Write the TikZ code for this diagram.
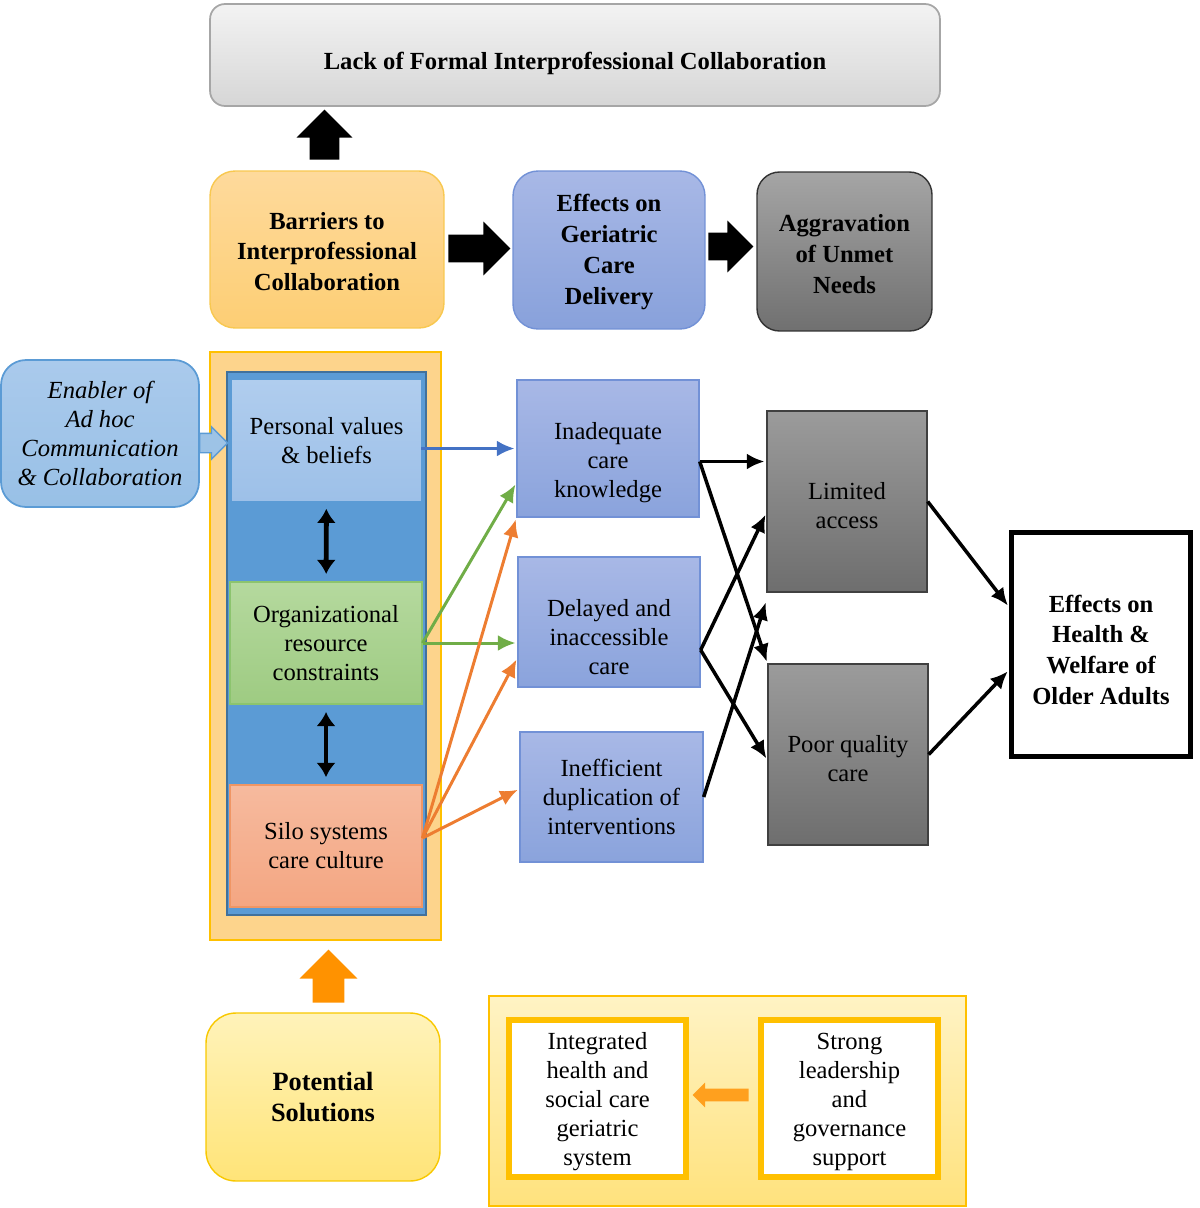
\documentclass[tikz,border=0pt]{standalone}
\usepackage{fontspec}
\setmainfont{Liberation Serif}
\usepackage{tikz}
\usetikzlibrary{shapes.arrows}
\usetikzlibrary{arrows.meta}
\definecolor{frameorange}{HTML}{FFC000}
\definecolor{barfill}{HTML}{FDD48C}
\definecolor{midblue}{HTML}{5B9BD5}
\definecolor{darkblue}{HTML}{41719C}
\definecolor{linkblue}{HTML}{4472C4}
\definecolor{linkgreen}{HTML}{70AD47}
\definecolor{linkorange}{HTML}{ED7D31}

\begin{document}
\begin{tikzpicture}[x=0.02cm, y=-0.02cm, shorten >=1pt, >={Latex[length=10pt,width=9pt]}]
		\tikzstyle{box}=[rectangle, inner sep=2pt, align=center, font=\fontsize{14}{16.5}\selectfont]
		\tikzstyle{head}=[box, font=\bfseries\fontsize{14}{17.6}\selectfont]
		\tikzstyle{bluebox}=[box, top color={rgb,255:red,168;green,184;blue,230}, bottom color={rgb,255:red,138;green,163;blue,220}, draw={rgb,255:red,114;green,145;blue,214}, line width=0.8pt, minimum width=3.64cm]
		\tikzstyle{graybox}=[box, top color={rgb,255:red,155;green,155;blue,155}, bottom color={rgb,255:red,110;green,110;blue,110}, draw={rgb,255:red,64;green,64;blue,64}, line width=0.8pt, minimum width=3.2cm, minimum height=3.62cm]
		\tikzstyle{solbox}=[box, fill=white, draw=frameorange, line width=3.4pt, minimum width=3.54cm, minimum height=3.14cm]
		\tikzstyle{blockarrow}=[single arrow, anchor=tail, fill=black, single arrow head extend=0.26cm]
		\tikzstyle{twohead}=[<->, line width=2.8pt, shorten >=0.15cm, shorten <=0.15cm, >={Latex[length=8pt,width=11pt]}]

		% Top row
		\node[head, rounded corners=0.3cm, top color={rgb,255:red,243;green,243;blue,243}, bottom color={rgb,255:red,214;green,214;blue,214}, draw={rgb,255:red,166;green,166;blue,166}, line width=1pt, minimum width=14.6cm, minimum height=2.04cm] (lack) at (575,55) {\rule{0pt}{19pt}Lack of Formal Interprofessional Collaboration};
		\node[head, rounded corners=0.5cm, top color={rgb,255:red,254;green,218;blue,156}, bottom color={rgb,255:red,253;green,206;blue,116}, draw={rgb,255:red,248;green,200;blue,80}, line width=0.8pt, minimum width=4.68cm, minimum height=3.14cm] (barriers) at (327,249.5) {\rule{0pt}{12pt}Barriers to\\Interprofessional\\Collaboration};
		\node[head, rounded corners=0.5cm, top color={rgb,255:red,168;green,184;blue,230}, bottom color={rgb,255:red,136;green,161;blue,219}, draw={rgb,255:red,114;green,145;blue,214}, line width=0.8pt, minimum width=3.84cm, minimum height=3.16cm] (effects) at (609,250) {\rule{0pt}{12pt}Effects on\\Geriatric\\Care\\Delivery};
		\node[head, rounded corners=0.45cm, top color={rgb,255:red,165;green,165;blue,165}, bottom color={rgb,255:red,112;green,112;blue,112}, draw={rgb,255:red,50;green,50;blue,50}, line width=0.8pt, minimum width=3.5cm, minimum height=3.18cm] (aggravation) at (844.5,251.5) {\rule{0pt}{13pt}Aggravation\\of Unmet\\Needs};

		\node[blockarrow, shape border rotate=90, inner ysep=0pt, inner xsep=0.29cm, minimum height=1cm] (arrowup) at (324.5,160) {};
		\node[blockarrow, inner xsep=0pt, inner ysep=0.27cm, minimum height=1.24cm] (arrowbe) at (448,248.5) {};
		\node[blockarrow, inner xsep=0pt, inner ysep=0.27cm, minimum height=0.9cm, single arrow head extend=0.24cm] (arrowea) at (708,246.5) {};

		% Barriers column
		\node[rectangle, fill=barfill, draw=frameorange, line width=1pt, minimum width=4.62cm, minimum height=11.76cm] (barframe) at (325.5,646) {};
		\node[rectangle, fill=midblue, draw=darkblue, line width=1.6pt, minimum width=3.98cm, minimum height=10.86cm] (barinner) at (326.5,643.5) {};
		\node[box, top color={rgb,255:red,176;green,205;blue,238}, bottom color={rgb,255:red,157;green,192;blue,232}, minimum width=3.78cm, minimum height=2.42cm] (personal) at (326.5,440.5) {Personal values\\\& beliefs};
		\node[box, top color={rgb,255:red,181;green,217;blue,158}, bottom color={rgb,255:red,158;green,203;blue,130}, draw={rgb,255:red,140;green,196;blue,110}, line width=0.6pt, minimum width=3.84cm, minimum height=2.44cm] (organizational) at (326,643) {Organizational\\resource\\constraints};
		\node[box, top color={rgb,255:red,246;green,186;blue,158}, bottom color={rgb,255:red,244;green,166;blue,130}, draw={rgb,255:red,240;green,150;blue,100}, line width=0.6pt, minimum width=3.84cm, minimum height=2.44cm] (silo) at (326,846) {Silo systems\\care culture};

		\node[box, font=\itshape\fontsize{14}{16.5}\selectfont, rounded corners=0.5cm, top color={rgb,255:red,170;green,202;blue,236}, bottom color={rgb,255:red,152;green,192;blue,230}, draw=midblue, line width=1pt, minimum width=3.96cm, minimum height=2.94cm] (enabler) at (100,433.5) {Enabler of\\Ad hoc\\Communication\\\& Collaboration};
		\node[single arrow, anchor=tail, inner xsep=0pt, inner ysep=0.18cm, fill={rgb,255:red,157;green,195;blue,230}, draw=midblue, line width=0.8pt, minimum height=0.56cm, single arrow head extend=0.13cm] (arrowen) at (199,443) {};

		\path[twohead] (personal) edge (organizational);
		\path[twohead] (organizational) edge (silo);

		% Effects
		\node[bluebox, minimum height=2.74cm] (inadequate) at (608,448.5) {\rule{0pt}{26pt}Inadequate\\care\\knowledge};
		\node[bluebox, minimum height=2.6cm] (delayed) at (609,622) {\rule{0pt}{27pt}Delayed and\\inaccessible\\care};
		\node[bluebox, minimum width=3.66cm, minimum height=2.6cm] (inefficient) at (611.5,797) {Inefficient\\duplication of\\interventions};

		\node[graybox] (limited) at (847,501.5) {\rule{0pt}{14pt}Limited\\access};
		\node[graybox] (poorq) at (848,754.5) {\rule{0pt}{14pt}Poor quality\\care};

		\node[head, fill=white, draw=black, line width=2.85pt, minimum width=3.58cm, minimum height=4.48cm] (health) at (1101,644.5) {\rule{0pt}{16pt}Effects on\\Health \&\\Welfare of\\Older Adults};

		% Coloured links
		\path[->, line width=1.7pt, color=linkblue] (personal.east |- inadequate.west) edge (inadequate.west);
		\path[->, line width=1.7pt, color=linkgreen] (organizational.east) edge ([yshift=-0.69cm]inadequate.west);
		\path[->, line width=1.7pt, color=linkgreen] (organizational.east) edge (delayed.west |- organizational.east);
		\path[->, line width=1.7pt, color=linkorange] ([yshift=0.16cm]silo.east) edge (inadequate.south west);
		\path[->, line width=1.7pt, color=linkorange] ([yshift=0.16cm]silo.east) edge ([yshift=-0.72cm]delayed.west);
		\path[->, line width=1.7pt, color=linkorange] ([yshift=0.16cm]silo.east) edge ([yshift=0.16cm]inefficient.west);

		% Black links
		\path[->, line width=2pt] ([yshift=-0.26cm]inadequate.east) edge ([yshift=-0.26cm]inadequate.east -| limited.west);
		\path[->, line width=2pt] ([yshift=-0.26cm]inadequate.east) edge (poorq.north west);
		\path[->, line width=2pt] ([yshift=-0.56cm]delayed.east) edge ([yshift=-0.23cm]limited.west);
		\path[->, line width=2pt] ([yshift=-0.56cm]delayed.east) edge ([yshift=-0.11cm]poorq.west);
		\path[->, line width=2pt] (inefficient.east) edge ([yshift=-0.16cm]limited.south west);
		\path[->, line width=2pt] (limited.east) edge ([yshift=0.75cm]health.west);
		\path[->, line width=2pt] (poorq.east) edge ([yshift=-0.51cm]health.west);

		% Solutions
		\node[blockarrow, fill={rgb,255:red,255;green,146;blue,0}, shape border rotate=90, inner ysep=0pt, inner xsep=0.31cm, minimum height=1.06cm] (arrowsol) at (328.5,1003) {};
		\node[head, font=\bfseries\fontsize{15}{18}\selectfont, rounded corners=0.6cm, top color={rgb,255:red,255;green,243;blue,186}, bottom color={rgb,255:red,255;green,228;blue,120}, draw={rgb,255:red,248;green,200;blue,0}, line width=0.8pt, minimum width=4.68cm, minimum height=3.36cm] (potential) at (323,1097) {Potential\\Solutions};
		\node[rectangle, top color={rgb,255:red,255;green,243;blue,196}, bottom color={rgb,255:red,255;green,226;blue,125}, draw=frameorange, line width=1pt, minimum width=9.54cm, minimum height=4.2cm] (solframe) at (727.5,1101) {};
		\node[solbox] (integrated) at (597.5,1098.5) {\rule{0pt}{13pt}Integrated\\health and\\social care\\geriatric\\system};
		\node[solbox] (strong) at (849.5,1098.5) {\rule{0pt}{13pt}Strong\\leadership\\and\\governance\\support};
		\node[blockarrow, fill={rgb,255:red,255;green,160;blue,30}, shape border rotate=180, inner xsep=0pt, inner ysep=0.12cm, minimum height=1.12cm, single arrow head extend=0.12cm] (arrowsl) at (749,1095) {};

		\useasboundingbox (0,0) rectangle (1200,1208);
		\end{tikzpicture}
\end{document}
